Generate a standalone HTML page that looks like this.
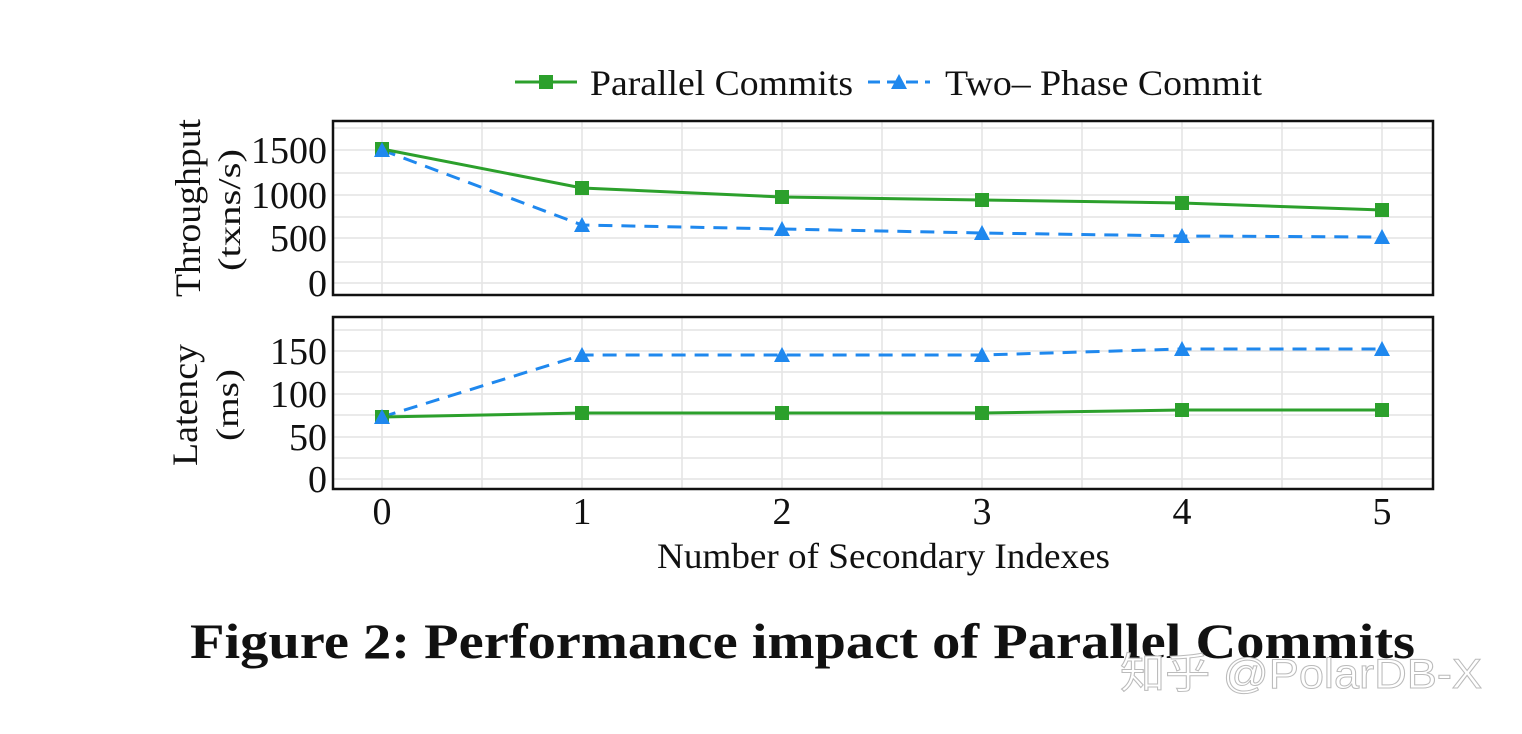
<!DOCTYPE html>
<html><head><meta charset="utf-8"><style>
html,body{margin:0;padding:0;background:#fff;}
svg{display:block;}
text{font-family:"Liberation Serif",serif;fill:#111;}
</style></head><body>
<svg width="1522" height="734" viewBox="0 0 1522 734">
<line x1="515" y1="82" x2="577" y2="82" stroke="#2ca02c" stroke-width="3"/>
<rect x="539" y="75" width="14" height="14" fill="#2ca02c"/>
<text x="590" y="95" font-size="36" textLength="263" lengthAdjust="spacingAndGlyphs">Parallel Commits</text>
<line x1="868" y1="82" x2="930" y2="82" stroke="#1f88ee" stroke-width="3" stroke-dasharray="12,7"/>
<polygon points="899,74 907,89 891,89" fill="#1f88ee"/>
<text x="945" y="95" font-size="36" textLength="317" lengthAdjust="spacingAndGlyphs">Two– Phase Commit</text>

<g stroke="#e4e4e4" stroke-width="1.5">
<line x1="333" y1="128" x2="1433" y2="128"/><line x1="333" y1="150" x2="1433" y2="150"/>
<line x1="333" y1="173" x2="1433" y2="173"/><line x1="333" y1="195" x2="1433" y2="195"/>
<line x1="333" y1="217" x2="1433" y2="217"/><line x1="333" y1="238" x2="1433" y2="238"/>
<line x1="333" y1="262" x2="1433" y2="262"/><line x1="333" y1="283" x2="1433" y2="283"/>
<line x1="382" y1="121" x2="382" y2="295"/><line x1="482" y1="121" x2="482" y2="295"/>
<line x1="582" y1="121" x2="582" y2="295"/><line x1="682" y1="121" x2="682" y2="295"/>
<line x1="782" y1="121" x2="782" y2="295"/><line x1="882" y1="121" x2="882" y2="295"/>
<line x1="982" y1="121" x2="982" y2="295"/><line x1="1082" y1="121" x2="1082" y2="295"/>
<line x1="1182" y1="121" x2="1182" y2="295"/><line x1="1282" y1="121" x2="1282" y2="295"/>
<line x1="1382" y1="121" x2="1382" y2="295"/>
</g>
<rect x="333" y="121" width="1100" height="174" fill="none" stroke="#111" stroke-width="2.5"/>
<g font-size="38" text-anchor="end">
<text x="327" y="163" textLength="76" lengthAdjust="spacingAndGlyphs">1500</text><text x="327" y="208" textLength="76" lengthAdjust="spacingAndGlyphs">1000</text>
<text x="327" y="251" textLength="57" lengthAdjust="spacingAndGlyphs">500</text><text x="327" y="296">0</text>
</g>
<text transform="translate(200,208) rotate(-90)" font-size="36" text-anchor="middle" textLength="178" lengthAdjust="spacingAndGlyphs">Throughput</text>
<text transform="translate(240,210) rotate(-90)" font-size="32" text-anchor="middle" textLength="122" lengthAdjust="spacingAndGlyphs">(txns/s)</text>
<polyline points="382,150 582,225 782,229 982,233 1182,236 1382,237" fill="none" stroke="#1f88ee" stroke-width="3" stroke-dasharray="14,9"/>
<polyline points="382,149 582,188 782,197 982,200 1182,203 1382,210" fill="none" stroke="#2ca02c" stroke-width="3"/>
<g fill="#2ca02c">
<rect x="375" y="142" width="14" height="14"/><rect x="575" y="181" width="14" height="14"/>
<rect x="775" y="190" width="14" height="14"/><rect x="975" y="193" width="14" height="14"/>
<rect x="1175" y="196" width="14" height="14"/><rect x="1375" y="203" width="14" height="14"/>
</g>
<g fill="#1f88ee">
<polygon points="382,142 390,157 374,157"/><polygon points="582,217 590,232 574,232"/>
<polygon points="782,221 790,236 774,236"/><polygon points="982,225 990,240 974,240"/>
<polygon points="1182,228 1190,243 1174,243"/><polygon points="1382,229 1390,244 1374,244"/>
</g>

<g stroke="#e4e4e4" stroke-width="1.5">
<line x1="333" y1="330" x2="1433" y2="330"/><line x1="333" y1="351" x2="1433" y2="351"/>
<line x1="333" y1="372" x2="1433" y2="372"/><line x1="333" y1="394" x2="1433" y2="394"/>
<line x1="333" y1="415" x2="1433" y2="415"/><line x1="333" y1="437" x2="1433" y2="437"/>
<line x1="333" y1="458" x2="1433" y2="458"/><line x1="333" y1="479" x2="1433" y2="479"/>
<line x1="382" y1="317" x2="382" y2="489"/><line x1="482" y1="317" x2="482" y2="489"/>
<line x1="582" y1="317" x2="582" y2="489"/><line x1="682" y1="317" x2="682" y2="489"/>
<line x1="782" y1="317" x2="782" y2="489"/><line x1="882" y1="317" x2="882" y2="489"/>
<line x1="982" y1="317" x2="982" y2="489"/><line x1="1082" y1="317" x2="1082" y2="489"/>
<line x1="1182" y1="317" x2="1182" y2="489"/><line x1="1282" y1="317" x2="1282" y2="489"/>
<line x1="1382" y1="317" x2="1382" y2="489"/>
</g>
<rect x="333" y="317" width="1100" height="172" fill="none" stroke="#111" stroke-width="2.5"/>
<g font-size="38" text-anchor="end">
<text x="327" y="364" textLength="57" lengthAdjust="spacingAndGlyphs">150</text><text x="327" y="407" textLength="57" lengthAdjust="spacingAndGlyphs">100</text>
<text x="327" y="450">50</text><text x="327" y="492">0</text>
</g>
<text transform="translate(197,405) rotate(-90)" font-size="36" text-anchor="middle" textLength="122" lengthAdjust="spacingAndGlyphs">Latency</text>
<text transform="translate(238,405) rotate(-90)" font-size="32" text-anchor="middle" textLength="72" lengthAdjust="spacingAndGlyphs">(ms)</text>
<polyline points="382,417 582,355 782,355 982,355 1182,349 1382,349" fill="none" stroke="#1f88ee" stroke-width="3" stroke-dasharray="14,9"/>
<polyline points="382,417 582,413 782,413 982,413 1182,410 1382,410" fill="none" stroke="#2ca02c" stroke-width="3"/>
<g fill="#2ca02c">
<rect x="375" y="410" width="14" height="14"/><rect x="575" y="406" width="14" height="14"/>
<rect x="775" y="406" width="14" height="14"/><rect x="975" y="406" width="14" height="14"/>
<rect x="1175" y="403" width="14" height="14"/><rect x="1375" y="403" width="14" height="14"/>
</g>
<g fill="#1f88ee">
<polygon points="382,409 390,424 374,424"/><polygon points="582,347 590,362 574,362"/>
<polygon points="782,347 790,362 774,362"/><polygon points="982,347 990,362 974,362"/>
<polygon points="1182,341 1190,356 1174,356"/><polygon points="1382,341 1390,356 1374,356"/>
</g>
<g font-size="38" text-anchor="middle">
<text x="382" y="524">0</text><text x="582" y="524">1</text><text x="782" y="524">2</text>
<text x="982" y="524">3</text><text x="1182" y="524">4</text><text x="1382" y="524">5</text>
</g>
<text x="657" y="568" font-size="36" textLength="453" lengthAdjust="spacingAndGlyphs">Number of Secondary Indexes</text>

<text x="190" y="658" font-size="50" font-weight="bold" textLength="1225" lengthAdjust="spacingAndGlyphs">Figure 2: Performance impact of Parallel Commits</text>
<text x="1120" y="688" font-size="42" textLength="362" lengthAdjust="spacingAndGlyphs" style="font-family:'Liberation Sans','Noto Sans CJK SC',sans-serif;fill:#fff;stroke:#bbb;stroke-width:1">知乎 @PolarDB-X</text>
</svg>
</body></html>
